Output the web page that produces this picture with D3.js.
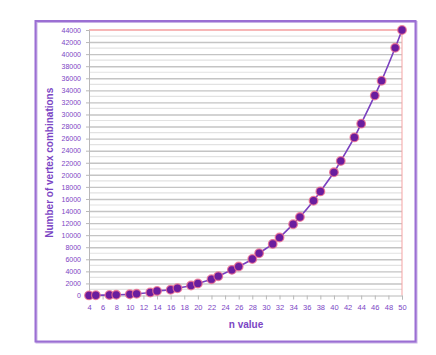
<!DOCTYPE html>
<html>
<head>
<meta charset="utf-8">
<script src="https://cdn.jsdelivr.net/npm/d3@7"></script>
<style>
    body { margin: 0; background: #fff; }
    text { font-family: 'Liberation Sans', Arial, sans-serif; fill: #7b45c4; }
    .yAxis .domain, .yAxis line { stroke: #b8b8b8; }
    .xAxis .domain, .xAxis line { stroke: #b8b8b8; }
</style>
</head>
<body>
<div id="chart"></div>
<script>
const nValues = [4, 5, 7, 8, 10, 11, 13, 14, 16, 17, 19, 20, 22, 23, 25, 26,
    28, 29, 31, 32, 34, 35, 37, 38, 40, 41, 43, 44, 46, 47, 49, 50];
const combos = [20, 40, 90, 120, 200, 280, 500, 750, 950, 1200, 1650, 2000, 2700, 3200, 4250, 4800,
    6050, 7000, 8550, 9600, 11820, 13000, 15700, 17250, 20420, 22300, 26200, 28480, 33150, 35600, 41050, 44000];
const xTicks = d3.range(4, 51, 2);
const yTicks = d3.range(0, 44001, 2000);
const yMinor = d3.range(1000, 44000, 2000);

const data = nValues.map((n, i) => ({ n: n, v: combos[i] }));

const outerWidth = 436;
const outerHeight = 355;
const margin = { top: 30, left: 89, bottom: 59.5, right: 34 };
const innerWidth = outerWidth - margin.left - margin.right;
const innerHeight = outerHeight - margin.top - margin.bottom;

const xScale = d3.scaleLinear()
    .domain([4, 50])
    .range([0, innerWidth]);

const yScale = d3.scaleLinear()
    .domain([0, 44000])
    .range([innerHeight, 0]);

const root = d3.select('#chart')
    .append('svg')
        .attr('width', outerWidth)
        .attr('height', outerHeight);

// outer frame, with a faint shadow on the right and bottom
root.append('rect')
    .attr('x', 36.5)
    .attr('y', 22)
    .attr('width', 380)
    .attr('height', 320.5)
    .attr('fill', 'none')
    .attr('stroke', '#c9b3e6')
    .attr('stroke-width', 2);

root.append('rect')
    .attr('x', 35.5)
    .attr('y', 21)
    .attr('width', 380)
    .attr('height', 320.5)
    .attr('fill', 'none')
    .attr('stroke', '#9b6fd3')
    .attr('stroke-width', 2);

const svg = root.append('g')
    .attr('transform', `translate(${margin.left},${margin.top})`);

// minor gridlines
svg.append('g')
    .selectAll('line')
    .data(yMinor)
    .join('line')
        .attr('x1', 0)
        .attr('x2', innerWidth)
        .attr('y1', d => yScale(d))
        .attr('y2', d => yScale(d))
        .attr('stroke', '#e2e2e2')
        .attr('stroke-width', 1.2);

// major gridlines
svg.append('g')
    .attr('class', 'yGrid')
    .call(d3.axisLeft(yScale)
        .tickValues(yTicks.slice(1, -1))
        .tickSize(-innerWidth)
        .tickFormat(''))
    .call(g => g.select('.domain').remove())
    .call(g => g.selectAll('line').attr('stroke', '#c4c4c4').attr('stroke-width', 1.4));

// top and right border in red
svg.append('line')
    .attr('x1', 0).attr('x2', innerWidth)
    .attr('y1', yScale(44000)).attr('y2', yScale(44000))
    .attr('stroke', '#f07070').attr('stroke-width', 1.2);
svg.append('line')
    .attr('x1', xScale(50)).attr('x2', xScale(50))
    .attr('y1', 0).attr('y2', innerHeight)
    .attr('stroke', '#f5a3a3').attr('stroke-width', 1);

svg.append('g')
    .attr('class', 'yAxis')
    .call(d3.axisLeft(yScale)
        .tickValues(yTicks)
        .tickSize(3)
        .tickPadding(5)
        .tickFormat(d3.format('d')))
    .call(g => g.selectAll('text').style('font-size', '7px'));

svg.append('g')
    .attr('class', 'xAxis')
    .attr('transform', `translate(0,${innerHeight})`)
    .call(d3.axisBottom(xScale)
        .tickValues(xTicks)
        .tickSize(4)
        .tickPadding(5)
        .tickFormat(d3.format('d')))
    .call(g => g.selectAll('text').style('font-size', '7.5px'));

const lineGenerator = d3.line()
    .x(d => xScale(d.n))
    .y(d => yScale(d.v))
    .curve(d3.curveCatmullRom);

svg.append('path')
    .attr('d', lineGenerator(data))
    .attr('fill', 'none')
    .attr('stroke', '#7a40c0')
    .attr('stroke-width', 1.6);

svg.append('g')
    .selectAll('circle')
    .data(data)
    .join('circle')
        .attr('cx', d => xScale(d.n))
        .attr('cy', d => yScale(d.v))
        .attr('r', 4.3)
        .attr('fill', '#6a1d9e')
        .attr('stroke', '#ee6f8f')
        .attr('stroke-opacity', 0.8)
        .attr('stroke-width', 1.3);

// axis titles
svg.append('text')
    .attr('x', xScale(27) + 0.5)
    .attr('y', innerHeight + 32)
    .attr('text-anchor', 'middle')
    .style('font-size', '10px')
    .style('font-weight', 'bold')
    .text('n value');

svg.append('text')
    .attr('transform', `translate(${-36},${innerHeight / 2}) rotate(-90)`)
    .attr('text-anchor', 'middle')
    .style('font-size', '10px')
    .style('font-weight', 'bold')
    .text('Number of vertex combinations');
</script>
</body>
</html>
